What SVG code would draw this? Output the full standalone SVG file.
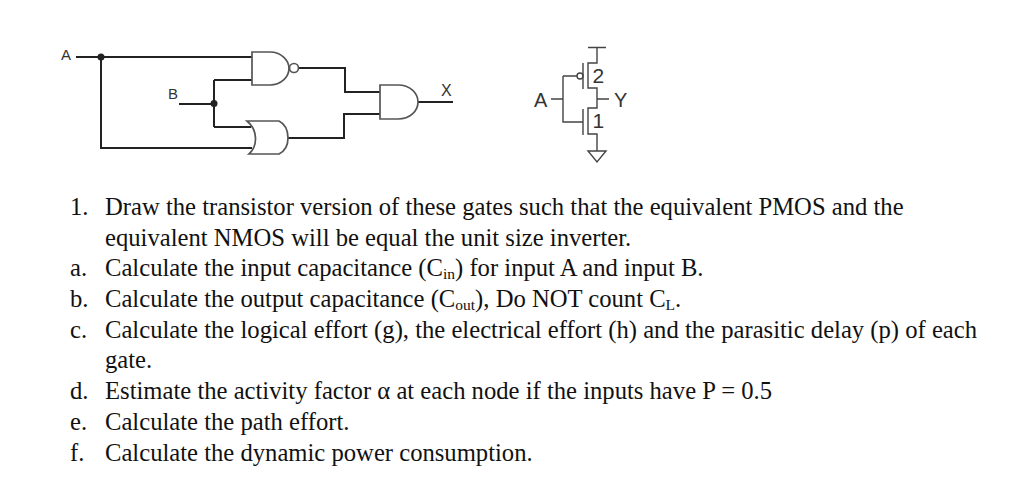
<svg xmlns="http://www.w3.org/2000/svg" width="1024" height="491" viewBox="0 0 1024 491">
<style>
.w{fill:none;stroke:#222;stroke-width:2;stroke-linejoin:miter}
.g{fill:#fff;stroke:#555;stroke-width:1.7}
.t{fill:none;stroke:#444;stroke-width:1.4}
.s{font-family:"Liberation Sans",Arial,sans-serif;fill:#333}
.q{font-family:"Liberation Serif","Times New Roman",serif;font-size:24.650px;fill:#111}
.sub{font-size:15.500px}
</style>
<rect width="1024" height="491" fill="#fff"/>
<g id="connectors">
<path class="w" d="M76 57H252M101 57V148H252M179 104H214M214 80V127M214 80H252M214 127H251"/>
<path class="w" d="M298 68H345V92H380M288 138H344V114H380M418 102H453"/>
<circle cx="101" cy="57" r="3.500" fill="#222"/>
<circle cx="214" cy="103.500" r="3.500" fill="#222"/>
</g>
<g id="nand"><path class="g" d="M252 52H270C281 52 289 60 289 68.500C289 77 281 85 270 85H252Z"/><circle class="g" cx="294" cy="68" r="4.500"/></g>
<g id="or"><path class="g" d="M247 121H279C285 124 288 131 288 138C288 145 285 151 279 154H249C258 146 258 130 247 121Z"/></g>
<g id="and"><path class="g" d="M380 85H398C410 85 418 93 418 102C418 111 410 119 398 119H380Z"/></g>
<g id="inverter">
<path class="t" d="M588 47.500H606M597 48V63H588V88H597V108H588V134H597V151M583 63V89M583 109V135M563 76H577M563 76V122H583M551 99H563M597 99H609M588 151H606L597 162Z"/>
<circle class="t" cx="580" cy="76" r="3"/>
</g>
<g id="labels">
<text class="s" x="61" y="60" font-size="15">A</text>
<text class="s" x="168" y="99" font-size="15">B</text>
<text class="s" x="441" y="96" font-size="16">X</text>
<text class="s" x="534" y="107" font-size="20">A</text>
<text class="s" x="614" y="107" font-size="20">Y</text>
<text class="s" x="592.500" y="83" font-size="21">2</text>
<text class="s" x="592.500" y="128" font-size="21">1</text>
</g>
<g id="text">
<text class="q" x="70" y="215">1.</text>
<text class="q" x="105" y="215">Draw the transistor version of these gates such that the equivalent PMOS and the</text>
<text class="q" x="105" y="246">equivalent NMOS will be equal the unit size inverter.</text>
<text class="q" x="70" y="276">a.</text>
<text class="q" x="105" y="276">Calculate the input capacitance (C<tspan class="sub" dy="3">in</tspan><tspan dy="-3">) for input A and input B.</tspan></text>
<text class="q" x="70" y="307">b.</text>
<text class="q" x="105" y="307">Calculate the output capacitance (C<tspan class="sub" dy="3">out</tspan><tspan dy="-3">), Do NOT count C</tspan><tspan class="sub" dy="3">L</tspan><tspan dy="-3">.</tspan></text>
<text class="q" x="70" y="337.500">c.</text>
<text class="q" x="105" y="337.500">Calculate the logical effort (g), the electrical effort (h) and the parasitic delay (p) of each</text>
<text class="q" x="105" y="368">gate.</text>
<text class="q" x="70" y="398.500">d.</text>
<text class="q" x="105" y="398.500">Estimate the activity factor α at each node if the inputs have P = 0.5</text>
<text class="q" x="70" y="429.500">e.</text>
<text class="q" x="105" y="429.500">Calculate the path effort.</text>
<text class="q" x="70" y="460.500">f.</text>
<text class="q" x="105" y="460.500">Calculate the dynamic power consumption.</text>
</g>
</svg>
